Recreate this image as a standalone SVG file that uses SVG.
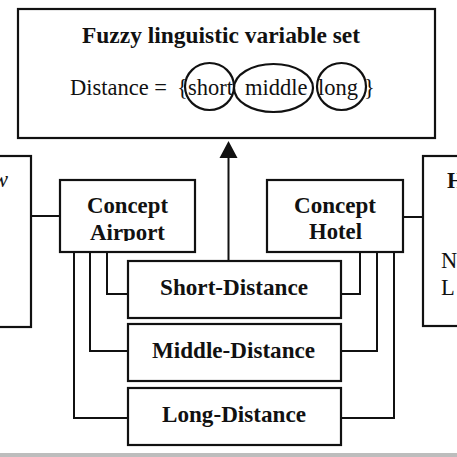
<svg xmlns="http://www.w3.org/2000/svg" width="457" height="457" viewBox="0 0 457 457">
<style>
.box{fill:#fff;stroke:#111;stroke-width:2.2}
.ell{fill:none;stroke:#111;stroke-width:2.2}
.ln{fill:none;stroke:#111;stroke-width:2}
text{font-family:"Liberation Serif","Times New Roman",serif;fill:#111}
.b{font-weight:bold;font-size:23px;text-anchor:middle}
.r{font-size:22.5px}
</style>
<defs>
<clipPath id="clipA"><rect x="60" y="180" width="135" height="61"/></clipPath>
</defs>
<rect x="0" y="0" width="457" height="457" fill="#fff"/>
<rect x="0" y="453" width="457" height="4" fill="#bdbdbd"/>
<g id="connectors">
<path class="ln" d="M31 216H60"/>
<path class="ln" d="M403 217H423"/>
<path class="ln" d="M107 252V294H128M90 252V351H128M74 252V418H128"/>
<path class="ln" d="M360 252V294H341M377 252V351H341M394 252V418H341"/>
<path class="ln" d="M228.5 261V156"/>
<polygon points="228.5,141 219.5,158 237.5,158" fill="#111"/>
</g>
<g id="fuzzy-set">
<rect class="box" x="18" y="9" width="417" height="129"/>
<text class="b" x="221" y="43" textLength="278" lengthAdjust="spacingAndGlyphs">Fuzzy linguistic variable set</text>
<text class="r" x="70" y="95">Distance =</text>
<text class="r" x="177" y="95">{</text>
<text class="r" x="188" y="95">short</text>
<text class="r" x="245" y="95">middle</text>
<text class="r" x="318" y="95">long</text>
<text class="r" x="364" y="95">}</text>
<ellipse class="ell" cx="209.5" cy="86.5" rx="24.5" ry="23.5"/>
<ellipse class="ell" cx="273.5" cy="88" rx="39.5" ry="24"/>
<ellipse class="ell" cx="341.5" cy="86.5" rx="24.5" ry="23.5"/>
</g>
<g id="left-partial">
<rect class="box" x="-10" y="156" width="41" height="171"/>
<text class="r" x="8" y="187" text-anchor="end" font-style="italic" font-size="18">w</text>
</g>
<g id="right-partial">
<rect class="box" x="423" y="156" width="50" height="170"/>
<text class="r" x="447" y="188" font-weight="bold">H</text>
<text class="r" x="441" y="268">N</text>
<text class="r" x="441" y="295">L</text>
</g>
<g id="concept-airport">
<rect class="box" x="60" y="180" width="135" height="72"/>
<text class="b" x="127.5" y="213" textLength="81" lengthAdjust="spacingAndGlyphs">Concept</text>
<text class="b" x="127.5" y="240" clip-path="url(#clipA)" textLength="75" lengthAdjust="spacingAndGlyphs">Airport</text>
</g>
<g id="concept-hotel">
<rect class="box" x="267" y="180" width="136" height="72"/>
<text class="b" x="335" y="213" textLength="82" lengthAdjust="spacingAndGlyphs">Concept</text>
<text class="b" x="335.5" y="239" textLength="53" lengthAdjust="spacingAndGlyphs">Hotel</text>
</g>
<g id="short-distance">
<rect class="box" x="128" y="261" width="213" height="57"/>
<text class="b" x="234" y="295" textLength="148" lengthAdjust="spacingAndGlyphs">Short-Distance</text>
</g>
<g id="middle-distance">
<rect class="box" x="128" y="324" width="213" height="57"/>
<text class="b" x="233.5" y="358" textLength="163" lengthAdjust="spacingAndGlyphs">Middle-Distance</text>
</g>
<g id="long-distance">
<rect class="box" x="128" y="388" width="213" height="57"/>
<text class="b" x="234" y="422" textLength="144" lengthAdjust="spacingAndGlyphs">Long-Distance</text>
</g>
</svg>
